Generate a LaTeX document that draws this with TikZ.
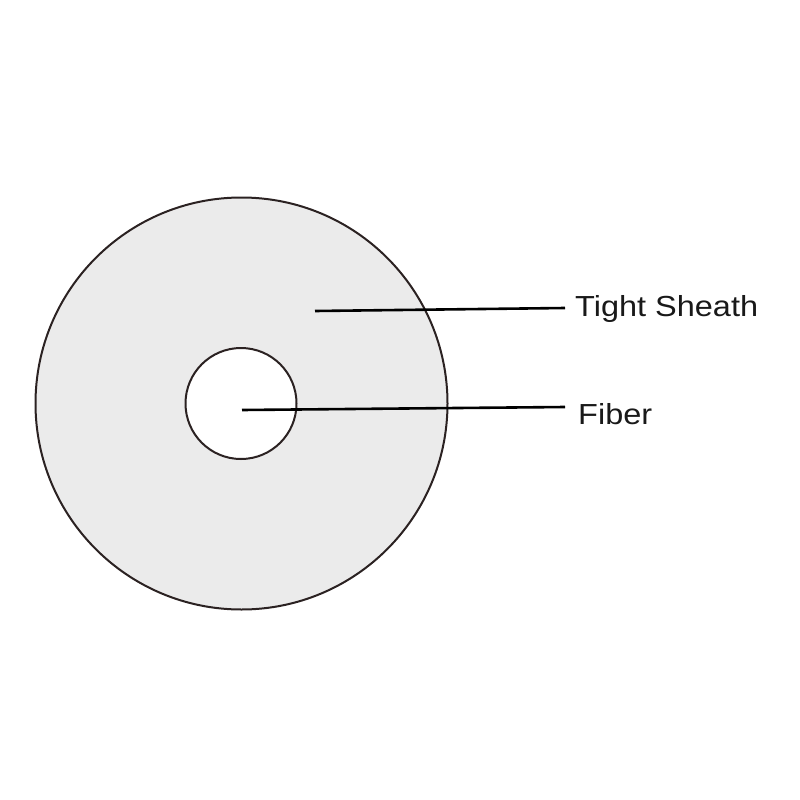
\documentclass[tikz,border=0pt]{standalone}
\usepackage{fontspec}
\setmainfont{Liberation Sans}[FakeStretch=1.12]
\definecolor{ringfill}{HTML}{EBEBEB}
\definecolor{ringline}{HTML}{2B2222}
\begin{document}
\begin{tikzpicture}[x=1pt,y=-1pt,
  ring/.style={circle,draw=ringline,line width=2pt,inner sep=0pt},
  leader/.style={line width=2.6pt,black},
  lbl/.style={anchor=base west,inner sep=0pt,font=\fontsize{29}{34}\selectfont,text=black!90}]
\useasboundingbox (0,0) rectangle (800,800);
\node[ring,fill=ringfill,minimum size=412pt] (sheath) at (241.5,403.5) {};
\node[ring,fill=white,minimum size=111pt] (fiber) at (241,403.5) {};
\node[lbl] (tslbl) at (575,316.5) {Tight Sheath};
\node[lbl] (fblbl) at (578,424) {Fiber};
\coordinate (tsA) at (315,311);
\coordinate (tsB) at (565,308);
\coordinate (fbA) at (242,410);
\coordinate (fbB) at (565,407);
\draw[leader] (tsA) -- (tsB);
\draw[leader] (fbA) -- (fbB);
\end{tikzpicture}
\end{document}
